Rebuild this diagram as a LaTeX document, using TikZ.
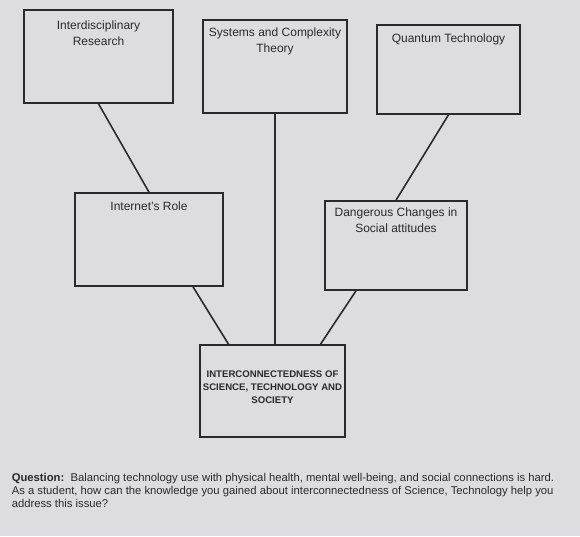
\documentclass[tikz,border=0pt]{standalone}
\usepackage{fontspec}
\setmainfont{Liberation Sans}
\usetikzlibrary{positioning}

\definecolor{paper}{RGB}{221,221,223}
\definecolor{ink}{RGB}{42,42,42}

\tikzset{every picture/.style={line width=1.2pt}}
\tikzset{
	topicbox/.style={draw=ink, rectangle, inner sep=0pt},
	boxtitle/.style={align=center, inner sep=0pt, text=ink, font=\fontsize{9}{12}\selectfont},
	link/.style={draw=ink},
}

\begin{document}
\begin{tikzpicture}[x=0.75pt,y=0.75pt,yscale=-1,xscale=1]
		%page of the photo
		\path[fill=paper] (0,0) rectangle (580,536);

		%Top row of boxes
		\node[topicbox, minimum width=111.75pt, minimum height=69.75pt] (research) at (98.5,56.5) {};
		\node[boxtitle, below=8pt of research.north] (researchtext) {Interdisciplinary\\Research};
		\node[topicbox, minimum width=108pt, minimum height=69.75pt] (systems) at (275,66.5) {};
		\node[boxtitle, below=6pt of systems.north] (systemstext) {Systems and Complexity\\Theory};
		\node[topicbox, minimum width=107.25pt, minimum height=66.75pt] (quantum) at (448.5,69.5) {};
		\node[boxtitle, below=6.5pt of quantum.north] (quantumtext) {Quantum Technology};

		%Middle row
		\node[topicbox, minimum width=111pt, minimum height=69.75pt] (internet) at (149,239.5) {};
		\node[boxtitle, below=6.5pt of internet.north] (internettext) {Internet's Role};
		\node[topicbox, minimum width=106.5pt, minimum height=66.75pt] (dangerous) at (396,245.5) {};
		\node[boxtitle, below=5pt of dangerous.north] (dangeroustext) {Dangerous Changes in\\Social attitudes};

		%Centre box
		\node[topicbox, minimum width=108.75pt, minimum height=69pt] (centre) at (272.5,391) {};
		\node[align=center, inner sep=0pt, text=ink, font=\bfseries\fontsize{7.2}{9.75}\selectfont] (centretext) at (272.5,387.5) {INTERCONNECTEDNESS OF\\SCIENCE, TECHNOLOGY AND\\SOCIETY};

		%Connectors
		\draw[link] (research.south) -- (internet.north);
		\draw[link] (quantum.south) -- (dangerous.north);
		\draw[link] (systems.south) -- (systems.south |- centre.north);
		\draw[link] ([xshift=33pt]internet.south) -- ([xshift=-33pt]centre.north);
		\draw[link] ([xshift=-30pt]dangerous.south) -- ([xshift=36pt]centre.north);

		%Question below
		\node[anchor=north west, align=left, inner sep=0pt, text=ink, font=\fontsize{8.45}{9.7}\selectfont] (question) at (11,473) {\textbf{Question:}\ \ Balancing technology use with physical health, mental well-being, and social connections is hard.\\As a student, how can the knowledge you gained about interconnectedness of Science, Technology help you\\address this issue?};

		\end{tikzpicture}
\end{document}
